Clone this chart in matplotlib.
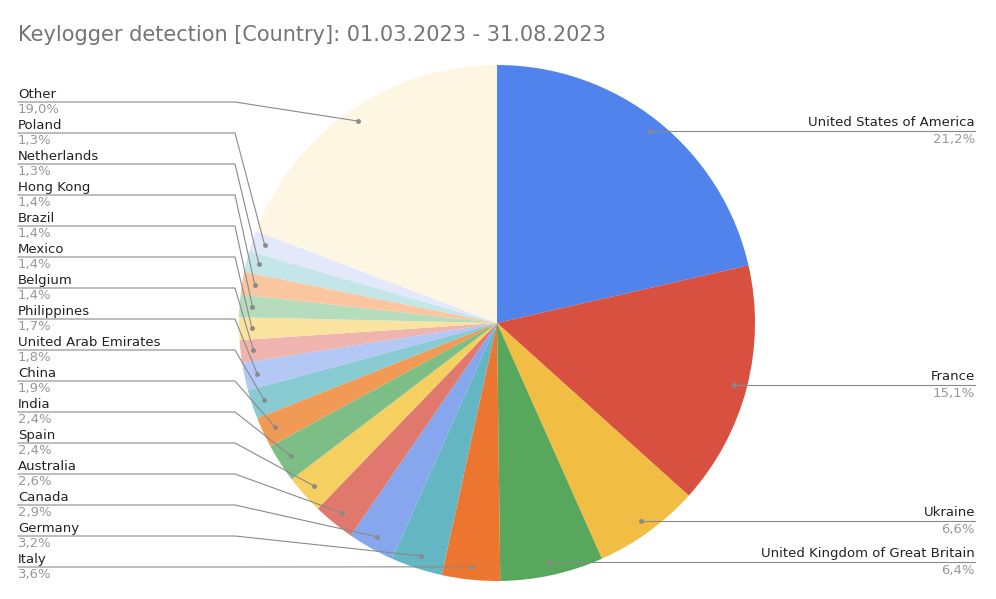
import matplotlib
matplotlib.use("Agg")
import matplotlib.pyplot as plt
import numpy as np

countries = ["United States of America", "France", "Ukraine", "United Kingdom of Great Britain",
             "Italy", "Germany", "Canada", "Australia", "Spain", "India", "China",
             "United Arab Emirates", "Philippines", "Belgium", "Mexico", "Brazil",
             "Hong Kong", "Netherlands", "Poland", "Other"]
shares = [21.2, 15.1, 6.6, 6.4, 3.6, 3.2, 2.9, 2.6, 2.4, 2.4, 1.9, 1.8, 1.7, 1.4, 1.4, 1.4,
          1.4, 1.3, 1.3, 19.0]
colors = ["#5083ec", "#d85040", "#f1bd42", "#57a75c", "#ec7530", "#63b6c2", "#86a6ee",
          "#e0786e", "#f5d060", "#7dbe86", "#f09a55", "#88cbd3", "#b3c8f5", "#efb4ae",
          "#fae29f", "#b5dcbd", "#f9c69f", "#c4e6e9", "#e3e9fb", "#fdf6e3"]

W, H = 996, 599
fig = plt.figure(figsize=(W / 100, H / 100), dpi=100)
ax = fig.add_axes([0, 0, 1, 1])
ax.set_xlim(0, W)
ax.set_ylim(0, H)
ax.axis("off")

cx, cy, R = 497, H - 323, 258
wedges, _ = ax.pie(shares, colors=colors, startangle=90, counterclock=False,
                   center=(cx, cy), radius=R, frame=True,
                   wedgeprops=dict(linewidth=0))
ax.set_xlim(0, W)
ax.set_ylim(0, H)
ax.set_aspect("auto")
ax.axis("off")

fig.text(18 / W, 1 - 35 / H, "Keylogger detection [Country]: 01.03.2023 - 31.08.2023",
         fontsize=15, color="#757575", va="center", ha="left")

def pct(v):
    return f"{v:.1f}%".replace(".", ",")

line_c = "#8a8a8a"
left_i = 0
n_left = 16
for i, (w, name, v) in enumerate(zip(wedges, countries, shares)):
    ang = np.deg2rad((w.theta1 + w.theta2) / 2)
    px, py = cx + 0.95 * R * np.cos(ang), cy + 0.95 * R * np.sin(ang)
    if i < 4:
        ly = py
        ax.plot([px, 975], [ly, ly], color=line_c, lw=0.8)
        ax.plot(px, py, "o", ms=2.5, color=line_c)
        ax.text(975, ly + 2, name, ha="right", va="bottom", fontsize=9.5, color="#222222")
        ax.text(975, ly - 2, pct(v), ha="right", va="top", fontsize=9.5, color="#999999")
    else:
        k = 19 - i  # Other at top (k=0 for Other)
        ly = H - (102 + 31 * k)
        bx = 235 if px > 250 else px - 10
        ax.plot([18, bx, px], [ly, ly, py], color=line_c, lw=0.8)
        ax.plot(px, py, "o", ms=2.5, color=line_c)
        ax.text(18, ly + 1, name, ha="left", va="bottom", fontsize=9.5, color="#222222")
        ax.text(18, ly - 1, pct(v), ha="left", va="top", fontsize=9.5, color="#999999")

fig.savefig("out.png", dpi=100, facecolor="white")
